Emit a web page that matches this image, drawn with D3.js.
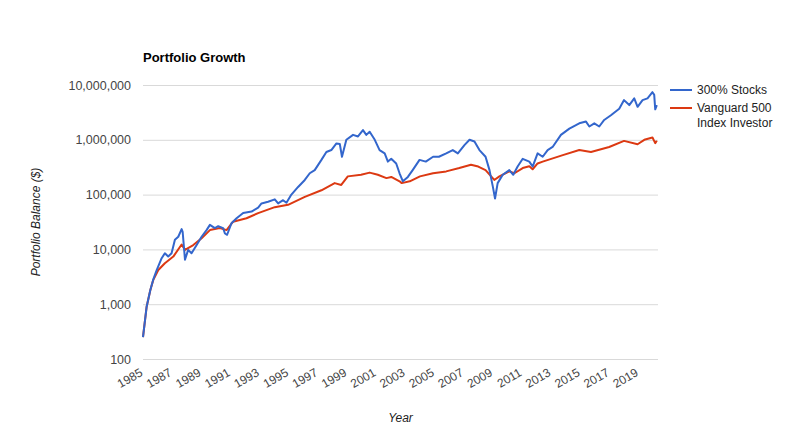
<!DOCTYPE html>
<html>
<head>
<meta charset="utf-8">
<script src="https://cdn.jsdelivr.net/npm/d3@7"></script>
<style>
  body { margin: 0; background: #fff; }
  svg { font-family: Arial, "Liberation Sans", sans-serif; }
</style>
</head>
<body>
<div id="visContainer"></div>
<script>
'use strict';

// series names shown in the legend
const seriesNames = ["300% Stocks", "Vanguard 500", "Index Investor"];

// 300% Stocks: time (decimal year) and balance
const stockYears = [1985.0, 1985.25, 1985.5, 1985.7, 1985.94, 1986.28, 1986.5, 1986.73, 1986.96, 1987.19,
  1987.42, 1987.65, 1987.72, 1987.88, 1988.1, 1988.33, 1988.68, 1989.02, 1989.36, 1989.59,
  1989.93, 1990.16, 1990.5, 1990.62, 1990.77, 1991.07, 1991.42, 1991.87, 1992.45, 1992.9,
  1993.13, 1993.58, 1994.04, 1994.27, 1994.61, 1994.84, 1995.18, 1995.64, 1996.1, 1996.44,
  1996.78, 1997.24, 1997.58, 1997.92, 1998.27, 1998.5, 1998.65, 1998.95, 1999.41, 1999.75,
  2000.09, 2000.32, 2000.55, 2000.9, 2001.23, 2001.58, 2001.8, 2002.03, 2002.37, 2002.6,
  2002.83, 2003.17, 2003.5, 2003.97, 2004.4, 2004.9, 2005.3, 2005.8, 2006.25, 2006.6,
  2007.05, 2007.4, 2007.74, 2008.08, 2008.5, 2008.77, 2009.0, 2009.15, 2009.33, 2009.68,
  2010.13, 2010.4, 2010.7, 2011.05, 2011.5, 2011.73, 2012.07, 2012.42, 2012.76, 2013.1,
  2013.67, 2014.25, 2014.93, 2015.39, 2015.62, 2015.96, 2016.3, 2016.64, 2017.1, 2017.67,
  2018.0, 2018.36, 2018.7, 2018.93, 2019.27, 2019.61, 2019.95, 2020.07, 2020.14, 2020.25];
const stockValues = [250, 900, 1800, 2800, 4200, 6900, 8500, 7400, 8500, 15000,
  17000, 23500, 21000, 6500, 9800, 8500, 12000, 17000, 22500, 28000,
  24500, 26500, 24500, 19500, 18500, 30000, 37000, 46000, 49000, 58000,
  69000, 74000, 82000, 69000, 79000, 71000, 100000, 138000, 185000, 245000,
  280000, 430000, 600000, 650000, 860000, 840000, 490000, 1000000, 1230000, 1150000,
  1500000, 1230000, 1400000, 1000000, 650000, 565000, 400000, 450000, 370000, 245000,
  175000, 210000, 280000, 430000, 400000, 490000, 490000, 565000, 650000, 565000,
  800000, 1000000, 930000, 650000, 490000, 280000, 140000, 85000, 162000, 230000,
  280000, 230000, 325000, 450000, 400000, 325000, 565000, 490000, 650000, 740000,
  1230000, 1600000, 2000000, 2150000, 1750000, 2000000, 1750000, 2300000, 2800000, 3700000,
  5300000, 4300000, 5700000, 4000000, 5300000, 5700000, 7400000, 6600000, 3600000, 4300000];

// Vanguard 500 Index Investor: time (decimal year) and balance
const vfinxYears = [1985.0, 1985.25, 1985.5, 1985.7, 1986.05, 1986.5, 1987.08, 1987.65, 1987.88, 1988.45,
  1989.02, 1989.59, 1990.27, 1990.73, 1991.18, 1992.1, 1992.9, 1994.04, 1994.95, 1996.1,
  1997.24, 1998.15, 1998.6, 1999.05, 1999.96, 2000.55, 2001.11, 2001.7, 2002.03, 2002.6,
  2002.75, 2003.3, 2004.0, 2004.9, 2005.8, 2006.7, 2007.5, 2008.0, 2008.5, 2009.1,
  2009.45, 2010.13, 2010.48, 2011.05, 2011.5, 2011.73, 2012.07, 2012.42, 2013.8, 2014.93,
  2015.73, 2016.98, 2018.0, 2018.93, 2019.39, 2019.95, 2020.14, 2020.25];
const vfinxValues = [250, 900, 1800, 2750, 4200, 5600, 7400, 12300, 9800, 12000,
  16000, 22500, 24500, 22500, 32000, 37000, 46000, 59000, 65000, 91000,
  120000, 162000, 150000, 215000, 230000, 252000, 230000, 200000, 210000, 175000,
  162000, 175000, 215000, 245000, 265000, 305000, 350000, 325000, 280000, 185000,
  215000, 265000, 245000, 305000, 330000, 290000, 370000, 400000, 525000, 650000,
  600000, 740000, 955000, 830000, 1000000, 1100000, 870000, 960000];

// axis ticks
const yTicks = [100, 1000, 10000, 100000, 1000000, 10000000];
const xTicks = [1985, 1987, 1989, 1991, 1993, 1995, 1997, 1999, 2001, 2003, 2005, 2007, 2009, 2011, 2013, 2015, 2017, 2019];

const colors = ["#3366cc", "#dc3912"];

var svg = d3.select('#visContainer')
    .append('svg')
    .attr('width', 800)
    .attr('height', 444);

// plot area edges
var plot = {left: 143, right: 658, top: 85, bottom: 359};

var x = d3.scaleLinear().domain([1985, 2020.33]).range([plot.left, plot.right]);
var y = d3.scaleLog().domain([100, 10000000]).range([plot.bottom, plot.top]);

// title
svg.append("text")
    .attr("x", plot.left)
    .attr("y", 62)
    .style("font-size", "13px")
    .style("font-weight", "bold")
    .attr("fill", "#000")
    .text("Portfolio Growth");

// horizontal gridlines + y labels
var yAxis = svg.append("g")
    .attr("transform", "translate(" + plot.left + ",0)")
    .call(d3.axisLeft(y).tickValues(yTicks).tickFormat(d3.format(",")).tickSize(-(plot.right - plot.left)).tickPadding(12));
yAxis.select(".domain").remove();
yAxis.selectAll("line").attr("stroke", "#d9d9d9");
yAxis.selectAll("text").attr("fill", "#444").style("font-size", "12.5px").style("font-family", "Arial, 'Liberation Sans', sans-serif");

// x labels, slanted
var xAxis = svg.append("g")
    .attr("transform", "translate(0," + plot.bottom + ")")
    .call(d3.axisBottom(x).tickValues(xTicks).tickFormat(d3.format("d")).tickSize(0));
xAxis.select(".domain").remove();
xAxis.selectAll("text")
    .attr("fill", "#444")
    .style("font-size", "12px")
    .style("font-family", "Arial, 'Liberation Sans', sans-serif")
    .attr("text-anchor", "end")
    .attr("y", 0).attr("dy", 0)
    .attr("transform", "translate(0,16) rotate(-30)");

// axis titles
svg.append("text")
    .attr("x", (plot.left + plot.right) / 2)
    .attr("y", 422)
    .attr("text-anchor", "middle")
    .style("font-size", "12px")
    .style("font-style", "italic")
    .attr("fill", "#222")
    .text("Year");

svg.append("text")
    .attr("transform", "translate(40," + ((plot.top + plot.bottom) / 2) + ") rotate(-90)")
    .attr("text-anchor", "middle")
    .style("font-size", "12px")
    .style("font-style", "italic")
    .attr("fill", "#222")
    .text("Portfolio Balance ($)");

// lines
var line = d3.line()
    .x(function(d) { return x(d[0]); })
    .y(function(d) { return y(d[1]); });

var series = [
  d3.zip(stockYears, stockValues),
  d3.zip(vfinxYears, vfinxValues)
];

// draw red first so blue stays on top where they overlap
[1, 0].forEach(function(i) {
  svg.append("path")
      .datum(series[i])
      .attr("fill", "none")
      .attr("stroke", colors[i])
      .attr("stroke-width", 2)
      .attr("stroke-linejoin", "round")
      .attr("d", line);
});

// legend
var legend = svg.append("g").attr("transform", "translate(670,0)");
legend.append("line").attr("x1", 0).attr("x2", 22).attr("y1", 90).attr("y2", 90)
    .attr("stroke", colors[0]).attr("stroke-width", 2);
legend.append("text").attr("x", 27).attr("y", 94).style("font-size", "12px").attr("fill", "#222")
    .text(seriesNames[0]);
legend.append("line").attr("x1", 0).attr("x2", 22).attr("y1", 108).attr("y2", 108)
    .attr("stroke", colors[1]).attr("stroke-width", 2);
legend.append("text").attr("x", 27).attr("y", 112).style("font-size", "12px").attr("fill", "#222")
    .text(seriesNames[1]);
legend.append("text").attr("x", 27).attr("y", 127).style("font-size", "12px").attr("fill", "#222")
    .text(seriesNames[2]);
</script>
</body>
</html>
